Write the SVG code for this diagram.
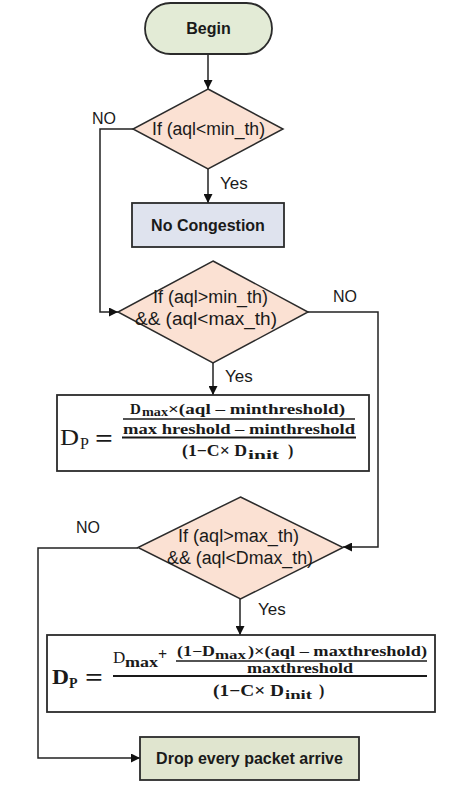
<svg xmlns="http://www.w3.org/2000/svg" width="474" height="809" viewBox="0 0 474 809">
<style>
.node{stroke:#2b2b2b;stroke-width:1.8}
.dia{fill:#fbe1d3;stroke:#2b2b2b;stroke-width:1.5}
.lbl{font-family:"Liberation Sans",Arial,sans-serif;font-size:16px;fill:#1a1a1a}
.ntx{font-family:"Liberation Sans",Arial,sans-serif;font-size:16px;font-weight:bold;fill:#1a1a1a;text-anchor:middle}
.dtx{font-family:"Liberation Sans",Arial,sans-serif;font-size:18px;fill:#1a1a1a}
.f{font-family:"Liberation Serif","Times New Roman",serif;font-weight:bold;fill:#1a1a1a}
.fr{font-family:"Liberation Serif","Times New Roman",serif;font-weight:normal;fill:#1a1a1a}
.bar{stroke:#1a1a1a;fill:none}
.conn{stroke:#222;stroke-width:1.5;fill:none;marker-end:url(#ah)}
</style>
<defs>
<marker id="ah" viewBox="0 0 10 10" refX="10" refY="5" markerWidth="9" markerHeight="9" markerUnits="userSpaceOnUse" orient="auto">
<path d="M0,0 L10,5 L0,10 z" fill="#111"/>
</marker>
</defs>
<rect width="474" height="809" fill="#ffffff"/>

<g id="connectors">
<path class="conn" d="M208,54 L208,89"/>
<path class="conn" d="M208,169 L208,203"/>
<path class="conn" d="M133,129 L100,129 L100,312 L118,312"/>
<path class="conn" d="M308,312 L378,312 L378,547 L343,547"/>
<path class="conn" d="M213,363 L213,395"/>
<path class="conn" d="M138,548 L38,548 L38,758 L140,758"/>
<path class="conn" d="M240,599 L240,635"/>
</g>

<g id="labels">
<text class="lbl" x="92" y="124" font-size="15">NO</text>
<text class="lbl" x="220" y="189" style="font-size:17px">Yes</text>
<text class="lbl" x="333" y="302" font-size="15">NO</text>
<text class="lbl" x="225" y="382" style="font-size:17px">Yes</text>
<text class="lbl" x="76" y="533" font-size="15">NO</text>
<text class="lbl" x="258" y="615" style="font-size:17px">Yes</text>
</g>

<g id="begin">
<rect class="node" x="145" y="3" width="127" height="51" rx="25.5" fill="#e3ebd6"/>
<text class="ntx" x="208.5" y="34">Begin</text>
</g>

<g id="decision1">
<polygon class="dia" points="208,89 283,129 208,169 133,129"/>
<text class="dtx" x="152" y="135" textLength="113" lengthAdjust="spacingAndGlyphs">If (aql&lt;min_th)</text>
</g>

<g id="no-congestion">
<rect class="node" x="132" y="203" width="152" height="44" fill="#dfe3ee"/>
<text class="ntx" x="208" y="231">No Congestion</text>
</g>

<g id="decision2">
<polygon class="dia" points="213,261 308,312 213,363 118,312"/>
<text class="dtx" x="153" y="303" textLength="115" lengthAdjust="spacingAndGlyphs">If (aql&gt;min_th)</text>
<text class="dtx" x="135" y="325" textLength="142" lengthAdjust="spacingAndGlyphs">&amp;&amp; (aql&lt;max_th)</text>
</g>

<g id="formula1">
<rect class="node" x="57" y="395" width="312" height="76" fill="#ffffff"/>
<text class="fr" x="60" y="445" font-size="24" textLength="19" lengthAdjust="spacingAndGlyphs">D</text>
<text class="fr" x="80" y="449" font-size="16">P</text>
<text class="f" x="95" y="447" font-size="26" textLength="18" lengthAdjust="spacingAndGlyphs">=</text>
<text class="f" x="130" y="414" font-size="15">D</text>
<text class="f" x="142" y="416" font-size="12.5" textLength="26" lengthAdjust="spacingAndGlyphs">max</text>
<text class="f" x="168" y="414" font-size="15" textLength="177" lengthAdjust="spacingAndGlyphs">×(aql – minthreshold)</text>
<line class="bar" x1="123" y1="419" x2="355" y2="419" stroke-width="1.3"/>
<text class="f" x="123" y="434" font-size="15" textLength="232" lengthAdjust="spacingAndGlyphs">max hreshold – minthreshold</text>
<line class="bar" x1="122" y1="437.5" x2="356" y2="437.5" stroke-width="2"/>
<text class="f" x="182" y="456" font-size="16" textLength="65" lengthAdjust="spacingAndGlyphs">(1−C× D</text>
<text class="f" x="248" y="459" font-size="13.5" textLength="31" lengthAdjust="spacingAndGlyphs">init</text>
<text class="f" x="288" y="456" font-size="16">)</text>
</g>

<g id="decision3">
<polygon class="dia" points="240.5,497 343,547.5 240.5,599 138,547.5"/>
<text class="dtx" x="178" y="542" textLength="121" lengthAdjust="spacingAndGlyphs">If (aql&gt;max_th)</text>
<text class="dtx" x="167" y="564" textLength="146" lengthAdjust="spacingAndGlyphs">&amp;&amp; (aql&lt;Dmax_th)</text>
</g>

<g id="formula2">
<rect class="node" x="47" y="635" width="388" height="77" fill="#ffffff"/>
<text class="f" x="52" y="684" font-size="22" textLength="17" lengthAdjust="spacingAndGlyphs">D</text>
<text class="f" x="69" y="688" font-size="14">P</text>
<text class="f" x="85" y="686" font-size="26" textLength="18" lengthAdjust="spacingAndGlyphs">=</text>
<text class="fr" x="113" y="663" font-size="17">D</text>
<text class="f" x="125" y="667" font-size="14" textLength="33" lengthAdjust="spacingAndGlyphs">max</text>
<text class="f" x="158" y="660" font-size="16">+</text>
<text class="f" x="177" y="656" font-size="14.5" textLength="38" lengthAdjust="spacingAndGlyphs">(1−D</text>
<text class="f" x="215" y="659" font-size="13.5" textLength="31" lengthAdjust="spacingAndGlyphs">max</text>
<text class="f" x="248" y="656" font-size="14.5" textLength="179" lengthAdjust="spacingAndGlyphs"> )×(aql – maxthreshold)</text>
<line class="bar" x1="176" y1="661" x2="427" y2="661" stroke-width="1.3"/>
<text class="f" x="247" y="673" font-size="14.5" textLength="106" lengthAdjust="spacingAndGlyphs">maxthreshold</text>
<line class="bar" x1="113" y1="676" x2="427" y2="676" stroke-width="2"/>
<text class="f" x="213" y="696" font-size="16" textLength="71" lengthAdjust="spacingAndGlyphs">(1−C× D</text>
<text class="f" x="285" y="699" font-size="13.5" textLength="27" lengthAdjust="spacingAndGlyphs">init</text>
<text class="f" x="319" y="696" font-size="16">)</text>
</g>

<g id="drop">
<rect class="node" x="140" y="737" width="219" height="43" fill="#e0e5cf"/>
<text class="ntx" x="249.5" y="764">Drop every packet arrive</text>
</g>
</svg>
